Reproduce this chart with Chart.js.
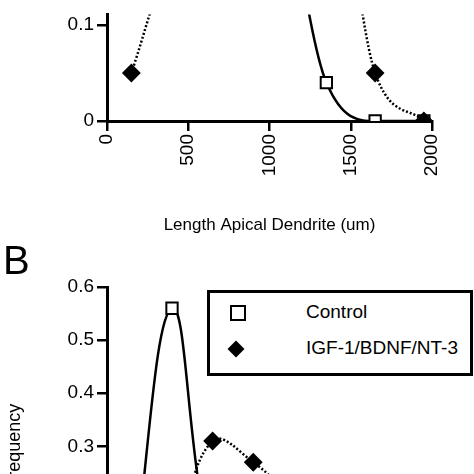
<!DOCTYPE html>
<html>
<head>
<script src="https://cdn.jsdelivr.net/npm/chart.js@4"></script>
<style>
  body { margin:0; width:474px; height:474px; overflow:hidden; position:relative; background:#fff; font-family:"Liberation Sans", Arial, sans-serif; }
  .abs { position:absolute; }
  #legend { left:207px; top:290px; width:266px; height:86px; border:3px solid #000; box-sizing:border-box; background:#fff; font-size:19px; }
  #legend div { position:absolute; left:96px; }
</style>
</head>
<body>
<div class="abs" style="left:0;top:0;width:474px;height:240px"><canvas id="chartA" width="474" height="240"></canvas></div>
<div class="abs" style="left:0;top:240px;width:474px;height:380px"><canvas id="chartB" width="474" height="380"></canvas></div>
<div class="abs" style="left:3px;top:238px;font-size:40px">B</div>
<div class="abs" style="left:-2px;top:-36px;font-size:40px;font-weight:bold">A</div>
<div id="legend" class="abs">
  <span class="abs" style="left:20px;top:12px;width:12px;height:12px;border:2px solid #000"></span>
  <div style="top:8px">Control</div>
  <span class="abs" style="left:20px;top:50px;width:12px;height:12px;background:#000;transform:rotate(45deg)"></span>
  <div style="top:44px">IGF-1/BDNF/NT-3</div>
</div>
<script>
// panel A: apical dendrite length
var controlA = [[1050, 0.30], [1350, 0.04], [1650, 0], [1950, 0]];
var igfA = [[150, 0.05], [450, 0.20], [1350, 0.30], [1650, 0.05], [1950, 0]];
// panel B
var controlB = [[150, 0.04], [400, 0.56], [650, 0.10], [900, 0.02]];
var igfB = [[150, 0.02], [400, 0.12], [650, 0.31], [900, 0.27], [1150, 0.20]];
var xTicks = [0, 500, 1000, 1500, 2000];

var toXY = arr => arr.map(p => ({x: p[0], y: p[1]}));
Chart.defaults.font.family = '"Liberation Sans", Arial, sans-serif';
Chart.defaults.color = '#000';

function ds(data, ctrl, tension) {
  return {
    data: toXY(data), borderColor: '#000', borderWidth: 2.5,
    borderDash: ctrl ? [] : [2, 2],
    pointStyle: ctrl ? 'rect' : 'rectRot',
    pointRadius: 8,
    pointBackgroundColor: ctrl ? '#fff' : '#000',
    pointBorderColor: '#000', pointBorderWidth: 2,
    tension: tension, cubicInterpolationMode: tension ? 'default' : 'monotone'
  };
}
var axisBase = { grid: {drawOnChartArea:false, drawTicks:true, tickLength:10, color:'#000', lineWidth:2.5}, border: {color:'#000', width:3} };

new Chart(document.getElementById('chartA'), {
  type: 'line',
  data: { datasets: [ds(igfA, false, 0), ds(controlA, true, 0)] },
  options: {
    responsive:false, animation:false,
    layout: {padding: {right:42, top:0}},
    plugins: {legend:{display:false}, tooltip:{enabled:false}},
    scales: {
      x: Object.assign({}, axisBase, { type:'linear', min:0, max:2000,
        afterBuildTicks: s => { s.ticks = xTicks.map(v => ({value:v})); },
        ticks: {font:{size:19}, maxRotation:90, minRotation:90, callback: v => String(v)},
        title: {display:true, text:'Length Apical Dendrite (um)', font:{size:17}, padding:{top:4}},
        afterFit: s => { s.height = 119; } }),
      y: Object.assign({}, axisBase, { min:0, max:0.111,
        afterBuildTicks: s => { s.ticks = [{value:0},{value:0.1}]; },
        ticks: {font:{size:19}, callback: v => v === 0 ? '0' : v},
        afterFit: s => { s.width = 107; } })
    }
  }
});

new Chart(document.getElementById('chartB'), {
  type: 'line',
  data: { datasets: [ds(igfB, false, 0.4), ds(controlB, true, 0.4)] },
  options: {
    responsive:false, animation:false,
    layout: {padding: {right:42, top:47}},
    plugins: {legend:{display:false}, tooltip:{enabled:false}},
    scales: {
      x: Object.assign({}, axisBase, { type:'linear', min:0, max:2000, ticks:{display:false},
        afterFit: s => { s.height = 9; } }),
      y: Object.assign({}, axisBase, { min:0, max:0.6,
        afterBuildTicks: s => { s.ticks = [0,0.1,0.2,0.3,0.4,0.5,0.6].map(v => ({value:v})); },
        ticks: {font:{size:19}, callback: v => v.toFixed(1)},
        title: {display:true, text:'Frequency', font:{size:18}},
        afterFit: s => { s.width = 107; } })
    }
  }
});
</script>
</body>
</html>
